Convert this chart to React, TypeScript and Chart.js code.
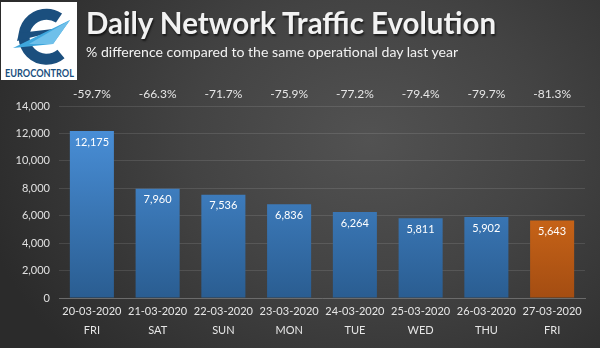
import React, { useEffect, useRef } from "react";
import { Chart, registerables } from "chart.js";

Chart.register(...registerables);

const dates = ["20-03-2020", "21-03-2020", "22-03-2020", "23-03-2020", "24-03-2020", "25-03-2020", "26-03-2020", "27-03-2020"];
const days = ["FRI", "SAT", "SUN", "MON", "TUE", "WED", "THU", "FRI"];
const flights = [12175, 7960, 7536, 6836, 6264, 5811, 5902, 5643];
const pctChange = [-59.7, -66.3, -71.7, -75.9, -77.2, -79.4, -79.7, -81.3];
const yMax = 14000;
const yStep = 2000;
const highlightIndex = 7;

const FONT = "Lato, 'Open Sans', sans-serif";

const fmt = (v: number) => v.toLocaleString("en-US");

const barLabels = {
  id: "barLabels",
  afterDatasetsDraw(chart: any) {
    const ctx = chart.ctx;
    const meta = chart.getDatasetMeta(0);
    ctx.save();
    ctx.fillStyle = "#ffffff";
    ctx.font = `11px ${FONT}`;
    ctx.textAlign = "center";
    ctx.textBaseline = "middle";
    meta.data.forEach((bar: any, i: number) => {
      ctx.fillText(fmt(flights[i]), bar.x, bar.y + 11);
    });
    ctx.restore();
  },
};

function barColor(context: any) {
  const chart = context.chart;
  const area = chart.chartArea;
  const i = context.dataIndex;
  if (!area) return "#3d7fc4";
  const g = chart.ctx.createLinearGradient(0, area.top, 0, area.bottom);
  if (i === highlightIndex) {
    g.addColorStop(0, "#f7821f");
    g.addColorStop(1, "#a44d12");
  } else {
    g.addColorStop(0, "#4d95e0");
    g.addColorStop(1, "#2a5d91");
  }
  return g;
}

function Logo() {
  return (
    <svg
      width="76"
      height="78"
      viewBox="0 0 76 78"
      style={{ position: "absolute", left: 1, top: 2 }}
    >
      <rect x="0" y="0" width="76" height="78" fill="#ffffff" />
      <path
        d="M 58 16 A 22.5 22.5 0 1 0 60 52"
        fill="none"
        stroke="#1b4f7e"
        strokeWidth="11"
      />
      <path d="M 16 39 L 48 31 L 52 27 L 18 31 Z" fill="#1b4f7e" />
      <path d="M 12 46 L 69 18 L 52 42 Z" fill="#3ea6dc" />
      <path d="M 28 42 L 69 18 L 52 42 Z" fill="#6fc0ea" />
      <text
        x="4"
        y="75"
        textLength="69"
        lengthAdjust="spacingAndGlyphs"
        fontFamily={FONT}
        fontWeight={700}
        fontSize={12}
        fill="#1b4f7e"
      >
        EUROCONTROL
      </text>
    </svg>
  );
}

export default function App() {
  const ref = useRef<HTMLCanvasElement | null>(null);

  useEffect(() => {
    if (!ref.current) return;
    const chart = new Chart(ref.current, {
      type: "bar",
      data: {
        labels: dates.map((d, i) => [d, days[i]]),
        datasets: [
          {
            data: flights,
            backgroundColor: barColor,
            borderWidth: 0,
            categoryPercentage: 1,
            barPercentage: 0.67,
          },
        ],
      },
      options: {
        animation: false,
        responsive: false,
        maintainAspectRatio: false,
        layout: { padding: { left: 0, right: 15, top: 84, bottom: 0 } },
        plugins: {
          legend: { display: false },
          tooltip: { enabled: false },
        },
        scales: {
          x: {
            position: "bottom",
            grid: { display: false, drawTicks: false },
            border: { display: true, color: "#6b6b6b" },
            ticks: {
              color: "#e6e6e6",
              font: { family: FONT, size: 11, lineHeight: 1.75 },
              padding: 4,
              maxRotation: 0,
              autoSkip: false,
            },
            afterFit: (s: any) => {
              s.height = 50;
            },
          },
          xTop: {
            type: "category",
            position: "top",
            labels: pctChange.map((p) => `${p.toFixed(1)}%`),
            offset: true,
            grid: { display: false, drawTicks: false },
            border: { display: false },
            ticks: {
              color: "#e6e6e6",
              font: { family: FONT, size: 12 },
              padding: 5,
              maxRotation: 0,
              autoSkip: false,
            },
            afterFit: (s: any) => {
              s.height = 22;
            },
          },
          y: {
            min: 0,
            max: yMax,
            ticks: {
              stepSize: yStep,
              color: "#e0e0e0",
              font: { family: FONT, size: 11 },
              padding: 9,
              callback: (v: any) => fmt(Number(v)),
            },
            grid: { color: "rgba(255,255,255,0.11)", drawTicks: false },
            border: { display: false },
            afterFit: (s: any) => {
              s.width = 59;
            },
          },
        },
      },
      plugins: [barLabels],
    });
    return () => chart.destroy();
  }, []);

  return (
    <div
      style={{
        position: "fixed",
        left: 0,
        top: 0,
        width: 600,
        height: 348,
        overflow: "hidden",
        background:
          "radial-gradient(ellipse 400px 320px at 370px 140px, #525252 0%, #434343 45%, #2b2b2b 100%)",
      }}
    >
      <canvas ref={ref} width={600} height={348} style={{ position: "absolute", left: 0, top: 0 }} />
      <Logo />
      <div
        style={{
          position: "absolute",
          left: 86,
          top: 5,
          fontFamily: FONT,
          fontWeight: 700,
          fontSize: 29.5,
          color: "#f2f2f2",
          whiteSpace: "nowrap",
          textShadow: "1px 2px 2px rgba(0,0,0,0.6)",
        }}
      >
        Daily Network Traffic Evolution
      </div>
      <div
        style={{
          position: "absolute",
          left: 86,
          top: 43,
          fontFamily: FONT,
          fontSize: 14.1,
          color: "#f2f2f2",
          whiteSpace: "nowrap",
        }}
      >
        % difference compared to the same operational day last year
      </div>
    </div>
  );
}
